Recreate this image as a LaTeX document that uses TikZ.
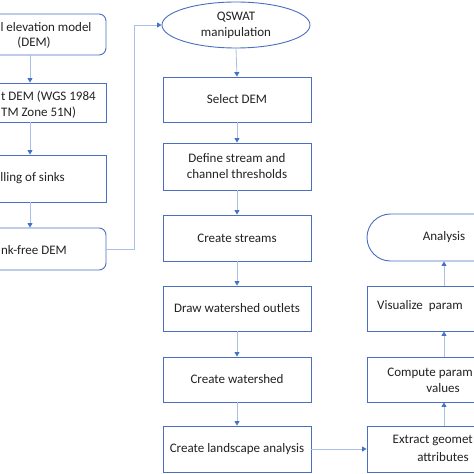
\documentclass[tikz,border=0pt]{standalone}
\usepackage{fontspec}
\setmainfont{Carlito}
\usetikzlibrary{arrows.meta,shapes.geometric}
\definecolor{boxblue}{HTML}{4A6FC0}
\definecolor{linkblue}{HTML}{A9C0E6}
\definecolor{tipblue}{HTML}{4472C4}
\definecolor{txt}{HTML}{222222}
\begin{document}
\begin{tikzpicture}[x=1pt,y=-1pt,
  box/.style={draw=boxblue, line width=0.9pt, fill=white, minimum width=148pt, inner sep=0pt, text=txt, align=center, font=\fontsize{13}{16}\selectfont},
  lbox/.style={box, minimum width=152pt},
  rbox/.style={box, minimum width=154pt},
  frag/.style={inner sep=0pt, text=txt, font=\fontsize{13}{16}\selectfont},
  link/.style={draw=linkblue, line width=0.8pt, -{Triangle[length=4.5pt,width=5pt,color=tipblue]}}
]
\useasboundingbox (0,0) rectangle (474,474);
\clip (0,0) rectangle (474,474);
\fill[white] (0,0) rectangle (474,474);

% left column
\node[lbox, rounded corners=7pt, minimum height=41pt] (b1) at (30,34.5) {};
\node[lbox, minimum height=39pt] (b2) at (30,102.5) {};
\node[lbox, minimum height=47pt] (b3) at (30,178.5) {};
\node[lbox, rounded corners=7pt, minimum height=42pt] (b4) at (30,249) {};
\node[frag] (b1a) at (46,27) {l elevation model};
\node[frag] (b1b) at (34,43) {(DEM)};
\node[frag, anchor=west] (b2a) at (1,97) {t DEM (WGS 1984};
\node[frag, anchor=west] (b2b) at (1,113) {TM Zone 51N)};
\node[frag, anchor=east] (b3a) at (65,178) {lling of sinks};
\node[frag, anchor=east] (b4a) at (67,250) {nk-free DEM};

% middle column
\node[box, ellipse, minimum width=148pt, minimum height=46pt] (ell) at (236,25) {QSWAT\\manipulation};
\node[box, minimum height=45pt] (m1) at (237,99.5) {Select DEM};
\node[box, minimum height=47pt] (m2) at (237,166.5) {Define stream and\\channel thresholds};
\node[box, minimum height=46pt] (m3) at (237,238) {Create streams};
\node[box, minimum height=45pt] (m4) at (237,308.5) {Draw watershed outlets};
\node[box, minimum height=45pt] (m5) at (237,379.5) {Create watershed};
\node[box, minimum height=46pt] (m6) at (237,449) {Create landscape analysis};

% right column
\node[rbox, draw=none, fill=none, minimum height=47pt] (r1) at (444,237.5) {Analysis};
\draw[draw=boxblue, line width=0.9pt] (480,214) -- (390.5,214) arc[start angle=270, end angle=90, radius=23.5] -- (480,261);
\node[rbox, minimum height=45pt] (r2) at (444,308.5) {};
\node[rbox, minimum height=45pt] (r3) at (444,379.5) {};
\node[rbox, minimum height=46pt] (r4) at (444,449) {};
\node[frag, anchor=west] (r2a) at (377,306) {Visualize\ \ param};
\node[frag, anchor=east] (r3a) at (473,373) {Compute param};
\node[frag] (r3b) at (443,388) {values};
\node[frag, anchor=east] (r4a) at (473,440) {Extract geomet};
\node[frag] (r4b) at (443,457) {attributes};

\coordinate (turn) at (134,0);

% connectors
\draw[link] (b1.south) -- (b2.north);
\draw[link] (b2.south) -- (b3.north);
\draw[link] (b3.south) -- (b4.north);
\draw[link] (b4.east) -- (b4.east -| turn) |- (ell.west);
\draw[link] (ell.south) -- (m1.north);
\draw[link] (m1.south) -- (m2.north);
\draw[link] (m2.south) -- (m3.north);
\draw[link] (m3.south) -- (m4.north);
\draw[link] (m4.south) -- (m5.north);
\draw[link] (m5.south) -- (m6.north);
\draw[link] (m6.east) -- (r4.west);
\draw[link] (r4.north) -- (r3.south);
\draw[link] (r3.north) -- (r2.south);
\draw[link] (r2.north) -- (r1.south);
\end{tikzpicture}
\end{document}
